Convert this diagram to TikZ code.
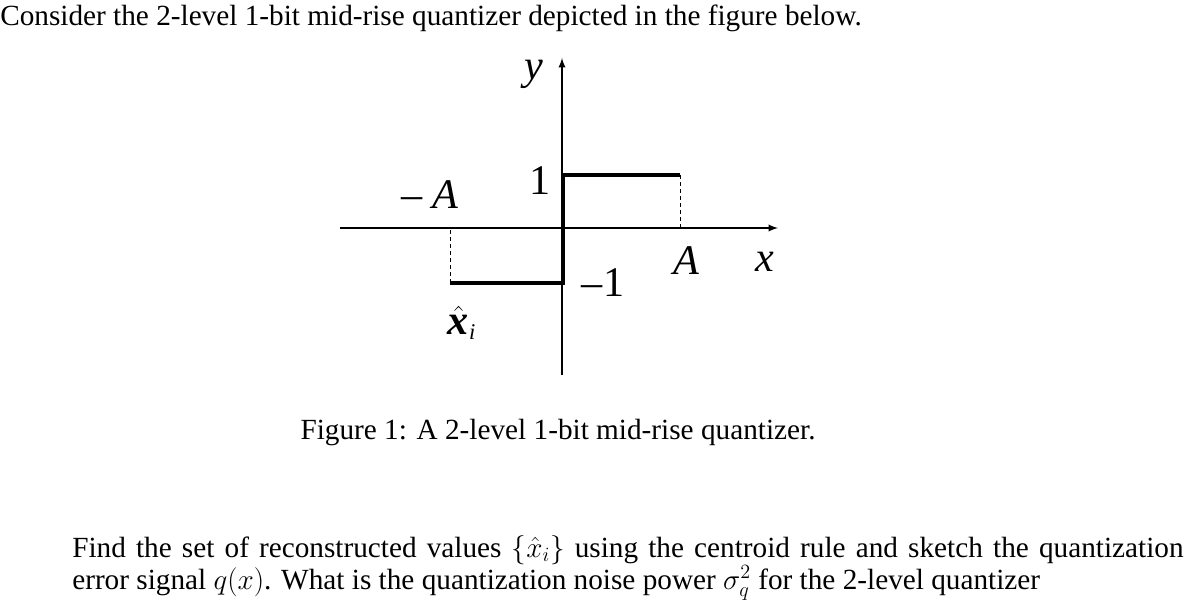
\documentclass[tikz,border=0pt]{standalone}
\usepackage{fontspec}
\setmainfont{Liberation Serif}
\begin{document}
\begin{tikzpicture}[x=0.025cm,y=-0.025cm,
  txt/.style={inner sep=0pt,font=\fontsize{20.8}{24}\selectfont},
  lab/.style={inner sep=0pt,font=\fontsize{30}{34}\selectfont},
  thk/.style={line width=2.3pt},
  dsh/.style={densely dashed,line width=0.5pt}]
\useasboundingbox (0,0) rectangle (1201,606);
\node[txt,anchor=west] (title) at (0,18) {Consider the 2-level 1-bit mid-rise quantizer depicted in the figure below.};
% axes
\coordinate (yb) at (562,375); \coordinate (yt) at (562,58);
\coordinate (xl) at (340,228); \coordinate (xr) at (778,228);
\draw[line width=1.3pt,-latex] (yb) -- (yt);
\draw[line width=1.3pt,-latex] (xl) -- (xr);
% steps
\coordinate (p1) at (680,175); \coordinate (p2) at (563,175);
\coordinate (p3) at (563,283); \coordinate (p4) at (450,283);
\coordinate (d1) at (680,228); \coordinate (d2) at (450,228);
\draw[thk] (p1) -- (p2) -- (p3) -- (p4);
\draw[dsh] (p1) -- (d1);
\draw[dsh] (p4) -- (d2);
% labels
\node[lab] (ly) at (534,74) {\itshape y};
\node[lab] (l1) at (540,181) {1};
\node[lab] (lma) at (430,195) {– \itshape A};
\node[lab] (la) at (686,261) {\itshape A};
\node[lab] (lx) at (765,262) {\itshape x};
\node[lab] (lm1) at (603,283) {–1};
\node[lab] (lxi) at (462,323) {$\hat{\textbf{\textit{x}}}_{\textit{\fontsize{16}{18}\selectfont i}}$};
\node[txt] (cap) at (558,432) {Figure 1: A 2-level 1-bit mid-rise quantizer.};
\node[txt,anchor=west] (p1l) at (72,550) {\makebox[27.775cm][s]{Find the set of reconstructed values $\{\hat{x}_i\}$ using the centroid rule and sketch the quantization}};
\node[txt,anchor=west] (p2l) at (72,583) {error signal $q(x)$. What is the quantization noise power $\sigma_q^2$ for the 2-level quantizer};
\end{tikzpicture}
\end{document}
